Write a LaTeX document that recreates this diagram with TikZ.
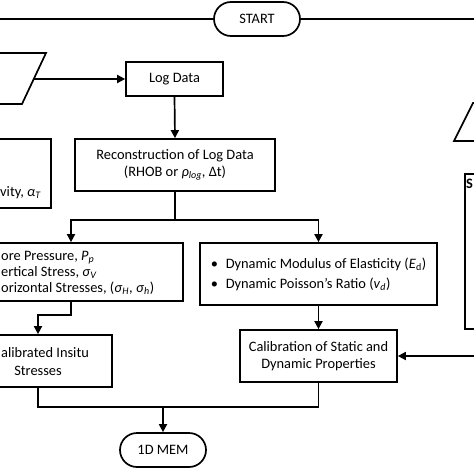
\documentclass[tikz,border=0pt]{standalone}
\usepackage{fontspec}
\setmainfont{Carlito}
\usetikzlibrary{arrows.meta,positioning}

\newcommand{\ivar}[2]{\textit{#1}\textsubscript{\textit{#2}}}

\tikzset{
  box/.style={draw, line width=1.7pt, fill=white, align=center, inner sep=2pt},
  pill/.style={draw, line width=1.7pt, fill=white, rounded corners=17pt, minimum width=86pt, minimum height=34pt},
  iobox/.style={draw, line width=1.7pt},
  link/.style={line width=1.7pt},
  arr/.style={line width=1.7pt, -{Triangle[length=8pt,width=8pt]}},
  cut/.style={inner sep=0pt, align=left, anchor=west}
}

\begin{document}
\begin{tikzpicture}[x=1pt, y=-1pt, font=\fontsize{14.4}{17.5}\selectfont]
    \useasboundingbox (0,0) rectangle (474,474);
    \fill[white] (0,0) rectangle (474,474);

    % Inicio
    \node[pill] (start) at (257,19) {START};
    \coordinate (startl) at (0,19);
    \coordinate (startr) at (474,19);
    \draw[link] (startl) -- (start.west);
    \draw[link] (start.east) -- (startr);

    % Entrada de dados (cortada a esquerda e a direita)
    \draw[iobox] (-10,53) -- (46,53) -- (22,104) -- (-10,104);
    \draw[iobox] (484,103) -- (473,103) -- (454,141) -- (484,141);
    \coordinate (login) at (34,79);

    % Coluna central
    \node[box, minimum width=97pt, minimum height=34pt] (log) at (174.5,79) {Log Data};
    \node[box, minimum width=200pt, minimum height=52pt] (recon) at (175,165)
      {Reconstruction of Log Data\\(RHOB or \ivar{ρ}{log}, Δt)};
    \draw[arr] (login) -- (log.west);
    \draw[arr] (log.south) -- (recon.north);

    % Caixa termica (cortada)
    \node[box, minimum width=91pt, minimum height=69pt] (therm) at (5.5,173.5) {};
    \node[cut] (thermtxt) at (0,193) {vity, \ivar{α}{T}};

    % Tensoes in situ
    \node[box, minimum width=224pt, minimum height=58pt] (stress) at (71,272) {};
    \node[cut, font=\fontsize{14.4}{16.2}\selectfont] (stresstxt) at (1,273)
      {ore Pressure, \ivar{P}{p}\\ertical Stress, \ivar{σ}{V}\\orizontal Stresses, (\ivar{σ}{H}, \ivar{σ}{h})};

    % Propriedades dinamicas
    \node[box, align=left, minimum width=237pt, minimum height=62pt, font=\fontsize{14.4}{20}\selectfont] (dyn) at (318.5,274)
      {\makebox[15pt][l]{•}Dynamic Modulus of Elasticity (\textit{E}\textsubscript{d})\\
       \makebox[15pt][l]{•}Dynamic Poisson’s Ratio (\ivar{v}{d})};

    \coordinate (split) at (175,220);
    \draw[link] (recon.south) -- (split);
    \draw[arr] (split) -| (stress.north);
    \draw[arr] (split) -| (dyn.north);

    % Calibracao
    \node[box, minimum width=148pt, minimum height=52pt] (insitu) at (38,361) {};
    \node[cut] (insitutxt) at (1,353) {alibrated Insitu};
    \node[inner sep=0pt] (insitutxtb) at (38,371) {Stresses};
    \node[box, minimum width=157pt, minimum height=52pt] (calib) at (318.5,356)
      {Calibration of Static and\\Dynamic Properties};
    \draw[arr] (stress.south) -- ++(0,13) -| (insitu.north);
    \draw[arr] (dyn.south) -- (calib.north);

    % Caixa da direita (cortada)
    \node[box, minimum width=40pt, minimum height=155pt, anchor=north west] (sbox) at (464,173) {};
    \node[cut, font=\fontsize{14.4}{17.5}\selectfont\bfseries] (stxt) at (466,184) {S};
    \coordinate (rin) at (474,356);
    \draw[arr] (rin) -- (calib.east);

    % Fim
    \node[pill] (mem) at (163,450) {1D MEM};
    \coordinate (join) at (163,407);
    \draw[link] (insitu.south) |- (calib.south |- join) -- (calib.south);
    \draw[arr] (join) -- (mem.north);
\end{tikzpicture}
\end{document}
